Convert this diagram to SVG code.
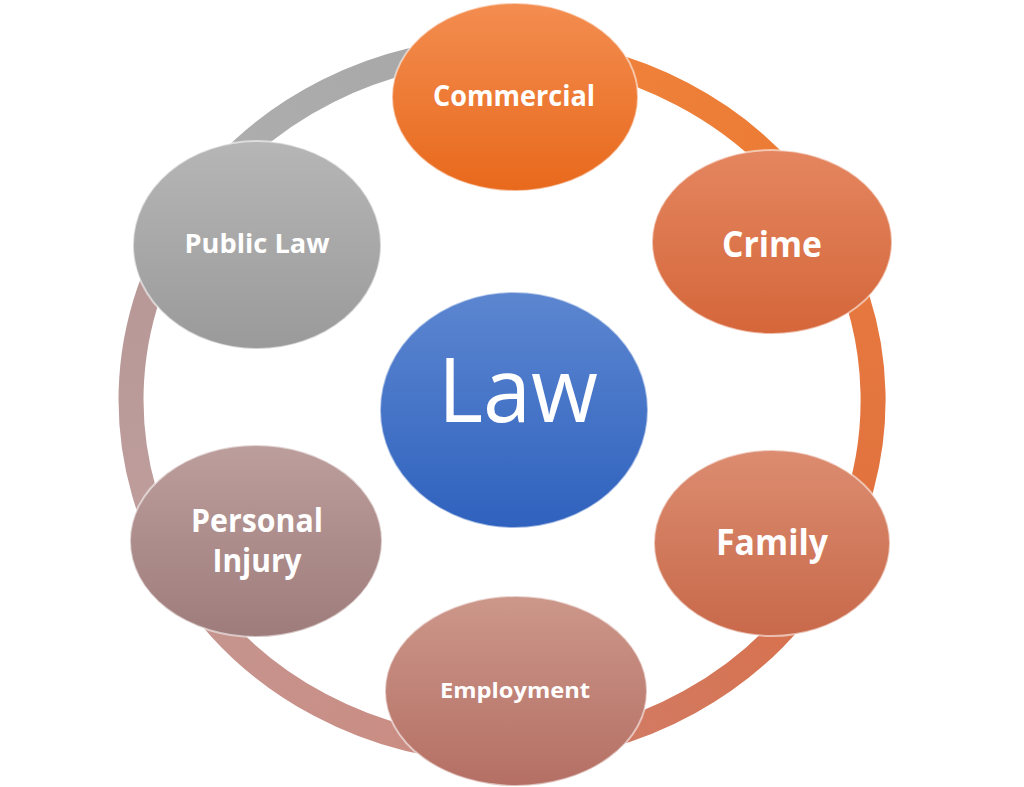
<svg xmlns="http://www.w3.org/2000/svg" width="1024" height="787" viewBox="0 0 1024 787">
<defs>
<linearGradient id="gCom" x1="0" y1="0" x2="0" y2="1"><stop offset="0" stop-color="#F38D50"/><stop offset="1" stop-color="#E8691C"/></linearGradient>
<linearGradient id="gCri" x1="0" y1="0" x2="0" y2="1"><stop offset="0" stop-color="#E48660"/><stop offset="1" stop-color="#D5663A"/></linearGradient>
<linearGradient id="gFam" x1="0" y1="0" x2="0" y2="1"><stop offset="0" stop-color="#DC8C70"/><stop offset="1" stop-color="#C8694A"/></linearGradient>
<linearGradient id="gEmp" x1="0" y1="0" x2="0" y2="1"><stop offset="0" stop-color="#CC978A"/><stop offset="1" stop-color="#B56F64"/></linearGradient>
<linearGradient id="gPer" x1="0" y1="0" x2="0" y2="1"><stop offset="0" stop-color="#BC9E9C"/><stop offset="1" stop-color="#9E7C7B"/></linearGradient>
<linearGradient id="gPub" x1="0" y1="0" x2="0" y2="1"><stop offset="0" stop-color="#B6B6B6"/><stop offset="1" stop-color="#9A9A9A"/></linearGradient>
<linearGradient id="gLaw" x1="0" y1="0" x2="0" y2="1"><stop offset="0" stop-color="#5C86D0"/><stop offset="1" stop-color="#2F62BE"/></linearGradient>
<linearGradient id="r1" gradientUnits="userSpaceOnUse" x1="194" y1="204" x2="502" y2="50"><stop offset="0" stop-color="#AFAFAF"/><stop offset="1" stop-color="#A6A6A6"/></linearGradient>
<linearGradient id="r2" gradientUnits="userSpaceOnUse" x1="502" y1="50" x2="817" y2="215"><stop offset="0" stop-color="#F0843E"/><stop offset="1" stop-color="#EB7A33"/></linearGradient>
<linearGradient id="r3" gradientUnits="userSpaceOnUse" x1="817" y1="215" x2="825" y2="571"><stop offset="0" stop-color="#E87A3E"/><stop offset="1" stop-color="#E0713F"/></linearGradient>
<linearGradient id="r4" gradientUnits="userSpaceOnUse" x1="825" y1="571" x2="502" y2="750"><stop offset="0" stop-color="#D96F48"/><stop offset="1" stop-color="#CE8070"/></linearGradient>
<linearGradient id="r5" gradientUnits="userSpaceOnUse" x1="502" y1="750" x2="185" y2="582"><stop offset="0" stop-color="#CC8A80"/><stop offset="1" stop-color="#C49690"/></linearGradient>
<linearGradient id="r6" gradientUnits="userSpaceOnUse" x1="185" y1="582" x2="194" y2="204"><stop offset="0" stop-color="#C09E9C"/><stop offset="1" stop-color="#B59796"/></linearGradient>
</defs>
<style>
.ring{fill:none;stroke-width:25}
.node{stroke:#ffffff;stroke-opacity:0.55;stroke-width:2}
.lbl{font-family:"Open Sans","Noto Sans",sans-serif;font-weight:bold;fill:#ffffff;text-anchor:middle}
</style>
<rect width="1024" height="787" fill="#ffffff"/>
<g id="connectors">
<path class="ring" stroke="url(#r1)" d="M194.4,204.3 A371,350 0 0 1 502,50"/>
<path class="ring" stroke="url(#r2)" d="M502,50 A371,350 0 0 1 817.4,215.5"/>
<path class="ring" stroke="url(#r3)" d="M817.4,215.5 A371,350 0 0 1 825.6,571.3"/>
<path class="ring" stroke="url(#r4)" d="M825.6,571.3 A371,350 0 0 1 502,750"/>
<path class="ring" stroke="url(#r5)" d="M502,750 A371,350 0 0 1 185.1,581.9"/>
<path class="ring" stroke="url(#r6)" d="M185.1,581.9 A371,350 0 0 1 194.4,204.3"/>
</g>
<g id="node-law">
<ellipse class="node" cx="514" cy="410" rx="134" ry="118" fill="url(#gLaw)"/>
<text class="lbl" x="518" y="422" font-size="90" font-weight="normal" style="font-weight:normal" textLength="160" lengthAdjust="spacingAndGlyphs">Law</text>
</g>
<g id="node-commercial">
<ellipse class="node" cx="515" cy="97" rx="123" ry="94" fill="url(#gCom)"/>
<text class="lbl" x="514" y="106" font-size="28" textLength="162" lengthAdjust="spacingAndGlyphs">Commercial</text>
</g>
<g id="node-crime">
<ellipse class="node" cx="772" cy="242" rx="120" ry="92" fill="url(#gCri)"/>
<text class="lbl" x="772" y="257" font-size="36" textLength="100" lengthAdjust="spacingAndGlyphs">Crime</text>
</g>
<g id="node-family">
<ellipse class="node" cx="772" cy="543" rx="118" ry="93" fill="url(#gFam)"/>
<text class="lbl" x="772" y="555" font-size="36" textLength="112" lengthAdjust="spacingAndGlyphs">Family</text>
</g>
<g id="node-employment">
<ellipse class="node" cx="516" cy="691" rx="131" ry="95" fill="url(#gEmp)"/>
<text class="lbl" x="515" y="698" font-size="22" textLength="150" lengthAdjust="spacingAndGlyphs">Employment</text>
</g>
<g id="node-personal-injury">
<ellipse class="node" cx="256" cy="541" rx="126" ry="96" fill="url(#gPer)"/>
<text class="lbl" x="257" y="532" font-size="32" textLength="132" lengthAdjust="spacingAndGlyphs">Personal</text>
<text class="lbl" x="257" y="572" font-size="32" textLength="89" lengthAdjust="spacingAndGlyphs">Injury</text>
</g>
<g id="node-public-law">
<ellipse class="node" cx="257" cy="245" rx="124" ry="104" fill="url(#gPub)"/>
<text class="lbl" x="257" y="253" font-size="27" textLength="145" lengthAdjust="spacingAndGlyphs">Public Law</text>
</g>
</svg>
